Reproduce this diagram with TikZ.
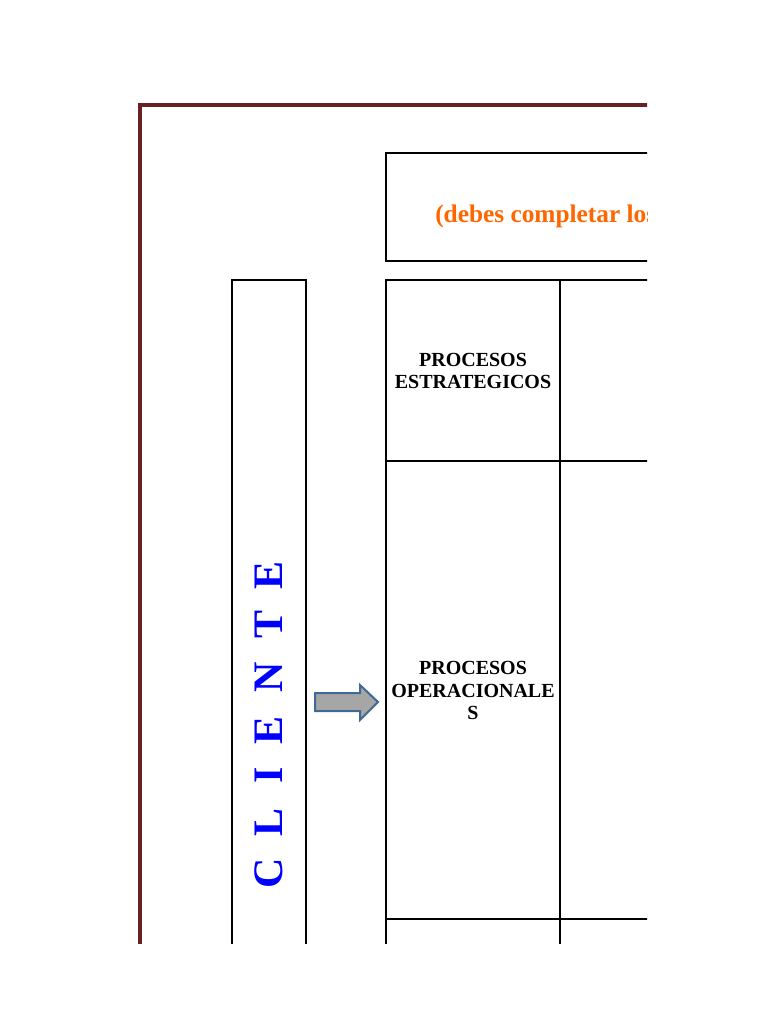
\documentclass[tikz,border=0pt]{standalone}
\usepackage{fontspec}
\setmainfont{Liberation Serif}
\usepackage{xcolor}
\definecolor{marco}{RGB}{102,34,34}
\definecolor{naranja}{RGB}{255,102,0}
\definecolor{bordeflecha}{RGB}{65,105,150}
\definecolor{rellenoflecha}{RGB}{166,166,166}

\begin{document}
\begin{tikzpicture}[x=0.75pt,y=0.75pt,yscale=-1,xscale=1,
    linea/.style={line width=1.3pt},
    rotulo/.style={anchor=center,inner sep=0pt,align=center,font=\bfseries\fontsize{15}{16.9}\selectfont},
    letra/.style={anchor=center,inner sep=0pt,rotate=90,text=blue,font=\bfseries\fontsize{31.5}{33}\selectfont}]
\useasboundingbox (0,0) rectangle (768,1024);
\begin{scope}
\clip (0,0) rectangle (647,943);
%Straight Lines [marco]
\draw [color=marco, line width=2.6pt] (140,960) -- (140,105) -- (670,105) ;
%Shape: Rectangle [encabezado]
\draw [line width=1.7pt] (386,153) rectangle (670,261) ;
%Straight Lines [columna cliente]
\draw [linea] (232,960) -- (232,280) -- (306,280) -- (306,960) ;
%Straight Lines [tabla]
\draw [linea] (386,960) -- (386,280) -- (670,280) ;
\draw [linea] (560,280) -- (560,960) ;
\draw [line width=1.7pt] (386,461) -- (670,461) ;
\draw [linea] (386,919) -- (670,919) ;
%Shape: Right Arrow [flecha]
\draw [color=bordeflecha, fill=rellenoflecha, line width=1.5pt, line join=miter] (315,693) -- (360,693) -- (360,685) -- (378,702) -- (360,720) -- (360,711) -- (315,711) -- cycle ;

% Text Node
\draw (435,222) node [anchor=base west,inner sep=0pt,text=naranja,font=\bfseries\fontsize{19}{22}\selectfont] (aviso) {(debes completar los};
% Text Node
\node [rotulo] (estrategicos) at (473,371) {PROCESOS\\ESTRATEGICOS};
% Text Node
\node [rotulo] (operacionales) at (473,690.5) {PROCESOS\\OPERACIONALE\\S};
% Text Node
\foreach \l/\yy [count=\i] in {C/873,L/822.5,I/775,E/730,N/677.5,T/624,E/575}
  \node [letra] (cliente\i) at (269,\yy) {\l};
\end{scope}
\end{tikzpicture}
\end{document}
